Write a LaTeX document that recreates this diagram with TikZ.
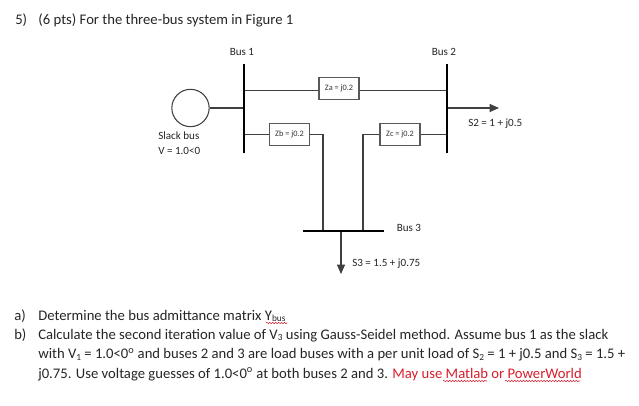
\documentclass[tikz,border=0pt]{standalone}
\usepackage{fontspec}
\setmainfont{Carlito}
\usetikzlibrary{arrows.meta,decorations.pathmorphing}
\definecolor{wred}{RGB}{215,30,45}
\newcommand{\dg}{\textsuperscript{o}}
\newcommand{\sbs}[1]{\raisebox{-0.25ex}{\scriptsize #1}}
\tikzset{
  x=0.75pt,y=-0.75pt,
  body/.style={anchor=base west,inner sep=0pt,font=\fontsize{11}{13}\selectfont,text=black!85},
  lab/.style={anchor=base west,inner sep=0pt,font=\fontsize{8.3}{10}\selectfont,text=black!85},
  zlab/.style={draw=black!65,line width=0.9pt,fill=white,minimum width=30pt,minimum height=16.5pt,inner sep=0pt,font=\fontsize{6.2}{7}\selectfont,text=black!80},
  busbar/.style={line width=1.6pt,black},
  wire/.style={line width=0.8pt,black!75},
  squig/.style={wred,line width=0.4pt,decorate,decoration={snake,amplitude=0.5pt,segment length=2.2pt}},
  loadarrow/.style={wire,-{Triangle[length=7pt,width=6pt]}}
}
\begin{document}
\begin{tikzpicture}
\useasboundingbox (0,0) rectangle (639,406);
\fill[white] (0,0) rectangle (639,406);
% buses
\coordinate (b1t) at (244,64); \coordinate (b1b) at (244,153);
\coordinate (b2t) at (447,64); \coordinate (b2b) at (447,153);
\coordinate (b3l) at (303,231); \coordinate (b3r) at (384,231);
\node[draw=black!75,line width=0.8pt,circle,minimum size=28pt,inner sep=0pt] (gen) at (190.5,108) {};
\coordinate (g1) at (244,108);
\coordinate (a1) at (244,90.5); \coordinate (a2) at (447,90.5);
\coordinate (s1) at (244,134.5); \coordinate (s2) at (447,134.5);
\node[zlab] (za) at (339,88.5) {Za = j0.2};
\node[zlab] (zb) at (289.5,134.5) {Zb = j0.2};
\node[zlab] (zc) at (400,134.5) {Zc = j0.2};
\coordinate (l2a) at (447,108); \coordinate (l2b) at (499,108);
\coordinate (l3a) at (341,231); \coordinate (l3b) at (341,274);
\coordinate (j3b) at (323,231); \coordinate (j3c) at (363,231);
\draw[wire] (gen) -- (g1);
\draw[wire] (a1) -- (a1-|za.west);
\draw[wire] (a2-|za.east) -- (a2);
\draw[wire] (s1) -- (zb);
\draw[wire] (zc) -- (s2);
\draw[wire] (zb.east) -| (j3b);
\draw[wire] (zc.west) -| (j3c);
\draw[loadarrow] (l2a) -- (l2b);
\draw[loadarrow] (l3a) -- (l3b);
\draw[busbar] (b1t) -- (b1b);
\draw[busbar] (b2t) -- (b2b);
\draw[busbar] (b3l) -- (b3r);
% diagram labels
\node[lab] (tb1) at (229.5,56) {Bus 1};
\node[lab] (tb2) at (431.5,56) {Bus 2};
\node[lab] (tb3) at (396.5,232) {Bus 3};
\node[lab] (ts2) at (468,127) {S2 = 1 + j0.5};
\node[lab] (ts3) at (352,267) {S3 = 1.5 + j0.75};
\node[lab] (tsl) at (158,140) {Slack bus};
\node[lab] (tv) at (158,155) {V = 1.0<0};
% text
\node[body] (title) at (15,25) {5)\hspace{8.5pt}(6 pts) For the three-bus system in Figure 1};
\node[body] (qa) at (14,320) {a)};
\node[body] (qat) at (38,320) {Determine the bus admittance matrix Y\sbs{bus}};
\node[body] (qb) at (14,339) {b)};
\node[body] (qbt) at (38,339) {Calculate the second iteration value of V\sbs{3} using Gauss-Seidel method. Assume bus 1 as the slack};
\node[body] (qc) at (38,358.5) {with V\sbs{1} = 1.0<0\dg{} and buses 2 and 3 are load buses with a per unit load of S\sbs{2} = 1 + j0.5 and S\sbs{3} = 1.5 +};
\node[body] (qd) at (38,378) {j0.75. Use voltage guesses of 1.0<0\dg{} at both buses 2 and 3. \textcolor{wred}{May use Matlab or PowerWorld}};
\draw[squig] (266,323) -- (287,323);
\draw[squig] (443,381) -- (487,381);
\draw[squig] (505,381) -- (580,381);
\end{tikzpicture}
\end{document}
